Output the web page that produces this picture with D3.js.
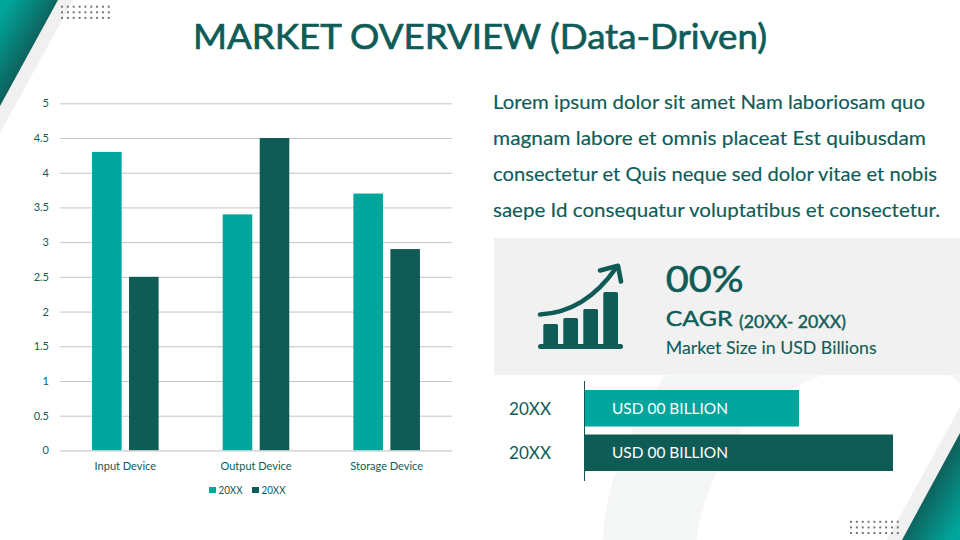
<!DOCTYPE html>
<html><head><meta charset="utf-8">
<script src="https://cdn.jsdelivr.net/npm/d3@7/dist/d3.min.js"></script>
<style>html,body{margin:0;padding:0;background:#fff;overflow:hidden}svg{display:block}text{font-family:Lato,sans-serif}</style>
</head><body><svg id="c" width="960" height="540"></svg>
<script>
const categories = ["Input Device","Output Device","Storage Device"];
const seriesNames = ["20XX","20XX "];
const series1 = [4.3,3.4,3.7];
const series2 = [2.5,4.5,2.9];
const yTicks = [0,0.5,1,1.5,2,2.5,3,3.5,4,4.5,5];
const sizeYears = ["20XX","20XX "];
const sizeValues = [69.5,100];
const sizeLabels = ["USD 00 BILLION","USD 00 BILLION"];
const paragraph = ["Lorem ipsum dolor sit amet Nam laboriosam quo","magnam labore et omnis placeat Est quibusdam","consectetur et Quis neque sed dolor vitae et nobis","saepe Id consequatur voluptatibus et consectetur."];

const TEAL="#00A69C", DARK="#0F5C57";
const svg=d3.select("#c");
const defs=svg.append("defs");
const g1=defs.append("linearGradient").attr("id","g1").attr("gradientUnits","userSpaceOnUse").attr("x1",0).attr("y1",15).attr("x2",42).attr("y2",40);
g1.append("stop").attr("offset",0).attr("stop-color",TEAL);g1.append("stop").attr("offset",1).attr("stop-color",DARK);
const g2=defs.append("linearGradient").attr("id","g2").attr("gradientUnits","userSpaceOnUse").attr("x1",960).attr("y1",525).attr("x2",918).attr("y2",500);
g2.append("stop").attr("offset",0).attr("stop-color",TEAL);g2.append("stop").attr("offset",1).attr("stop-color",DARK);

// background
svg.append("path").attr("fill","#F5F7F6").attr("d","M603,540 C605,490 625,430 665,375 L700,340 L960,340 L960,385 Q956,376 945,375 L823,375 C775,392 735,430 717,471 C705,500 698,520 697,540 Z");
svg.append("path").attr("fill","#F0F0F0").attr("d","M0,0H73L0,133Z");
svg.append("path").attr("fill","url(#g1)").attr("d","M0,0H58L0,106Z");
svg.append("path").attr("fill","#F0F0F0").attr("d","M960,407V540H887Z");
svg.append("path").attr("fill","url(#g2)").attr("d","M960,433V540H902Z");
function dots(x0,y0){const g=svg.append("g").attr("fill","#777");
  d3.range(3).forEach(r=>d3.range(9).forEach(c=>g.append("rect").attr("x",x0+c*5.85-1).attr("y",y0+r*5.6-1).attr("width",2).attr("height",2)));}
dots(62,6.7);dots(851,521.8);

function txt(s,x,y,size,len,fill,sw){const t=svg.append("text").attr("x",x).attr("y",y).attr("font-size",size).attr("fill",fill||DARK).text(s);
  if(len)t.attr("textLength",len).attr("lengthAdjust","spacingAndGlyphs");
  if(sw)t.attr("stroke",fill||DARK).attr("stroke-width",sw);return t;}

txt("MARKET OVERVIEW (Data-Driven)",193,49,35,574,DARK,0.7);

// chart
const x0=d3.scaleBand().domain(categories).range([60,452]);
const x1=d3.scaleBand().domain(seriesNames).range([0,x0.bandwidth()]).paddingInner(0.2).paddingOuter(0.866);
const y=d3.scaleLinear().domain([0,5]).range([450.4,103.3]);
const yAxis=d3.axisLeft(y).tickValues(yTicks).tickFormat(d3.format("~g")).tickSize(-392).tickPadding(11);
const ya=svg.append("g").attr("transform","translate(60,0)").call(yAxis);
ya.select(".domain").remove();
ya.selectAll(".tick line").attr("stroke","#C4C4C4").attr("stroke-width",1);
ya.selectAll(".tick text").attr("fill",DARK).attr("font-size",11).style("font-family","Lato,sans-serif");
[series1,series2].forEach((vals,i)=>{
  svg.append("g").attr("fill",i?DARK:TEAL).selectAll("rect").data(vals).join("rect")
   .attr("x",(d,j)=>x0(categories[j])+x1(seriesNames[i])).attr("width",x1.bandwidth())
   .attr("y",d=>y(d)).attr("height",d=>y(0)-y(d));
});
const xAxis=d3.axisBottom(x0).tickSize(0).tickPadding(12);
const xa=svg.append("g").attr("transform","translate(0,450.4)").call(xAxis);
xa.select(".domain").attr("stroke","#D9D9D9");
xa.selectAll("text").attr("fill",DARK).attr("font-size",11).style("font-family","Lato,sans-serif");
const legX=[209,252];
seriesNames.forEach((n,i)=>{
  svg.append("rect").attr("x",legX[i]).attr("y",487).attr("width",7).attr("height",6).attr("fill",i?DARK:TEAL);
  txt(n.trim(),legX[i]+9.5,493.5,11,24);
});

// paragraph
const paraW=[432,433,444,447], paraY=[109,145,181,217];
paragraph.forEach((s,i)=>txt(s,493,paraY[i],20,paraW[i],DARK,0.15));

// panel
svg.append("rect").attr("x",494).attr("y",238).attr("width",466).attr("height",137).attr("fill","#F1F1F1");
const ic=svg.append("g").attr("fill",DARK);
[[543.3,324],[563.3,318],[583.3,309],[603.3,292]].forEach(b=>ic.append("rect").attr("x",b[0]).attr("y",b[1]).attr("width",14.7).attr("height",346-b[1]).attr("rx",1.5));
ic.append("rect").attr("x",538).attr("y",344).attr("width",85).attr("height",5).attr("rx",2.5);
ic.append("path").attr("fill","none").attr("stroke",DARK).attr("stroke-width",4.6).attr("stroke-linecap","round").attr("stroke-linejoin","round").attr("d","M540,314.5 C570,313 595,298 616,268");
ic.append("path").attr("fill","none").attr("stroke",DARK).attr("stroke-width",4.6).attr("stroke-linecap","round").attr("stroke-linejoin","round").attr("d","M600,270.5 L618,265.8 L621,281.5");

txt("00%",665.7,291.7,37,78,DARK,0.6);
txt("CAGR",665.7,326,22,67,DARK,0.4);
txt("(20XX- 20XX)",739,328,17,107,DARK,0.4);
txt("Market Size in USD Billions",665.7,354,17,211,DARK,0.1);

// market-size bars
const sx=d3.scaleLinear().domain([0,100]).range([0,308]);
const sy=d3.scaleBand().domain(sizeYears).range([390,471]).paddingInner(0.18);
svg.append("g").selectAll("rect").data(sizeValues).join("rect")
 .attr("x",585).attr("y",(d,i)=>sy(sizeYears[i])).attr("width",d=>sx(d)).attr("height",sy.bandwidth())
 .attr("fill",(d,i)=>i?DARK:TEAL);
svg.append("line").attr("x1",584.5).attr("x2",584.5).attr("y1",381).attr("y2",481).attr("stroke",DARK).attr("stroke-width",1);
sizeYears.forEach((n,i)=>{
  const cy=sy(n)+sy.bandwidth()/2;
  txt(n.trim(),509,cy+6.5,18,42);
  txt(sizeLabels[i],612,cy+5.5,15,116,"#fff");
});
</script></body></html>
